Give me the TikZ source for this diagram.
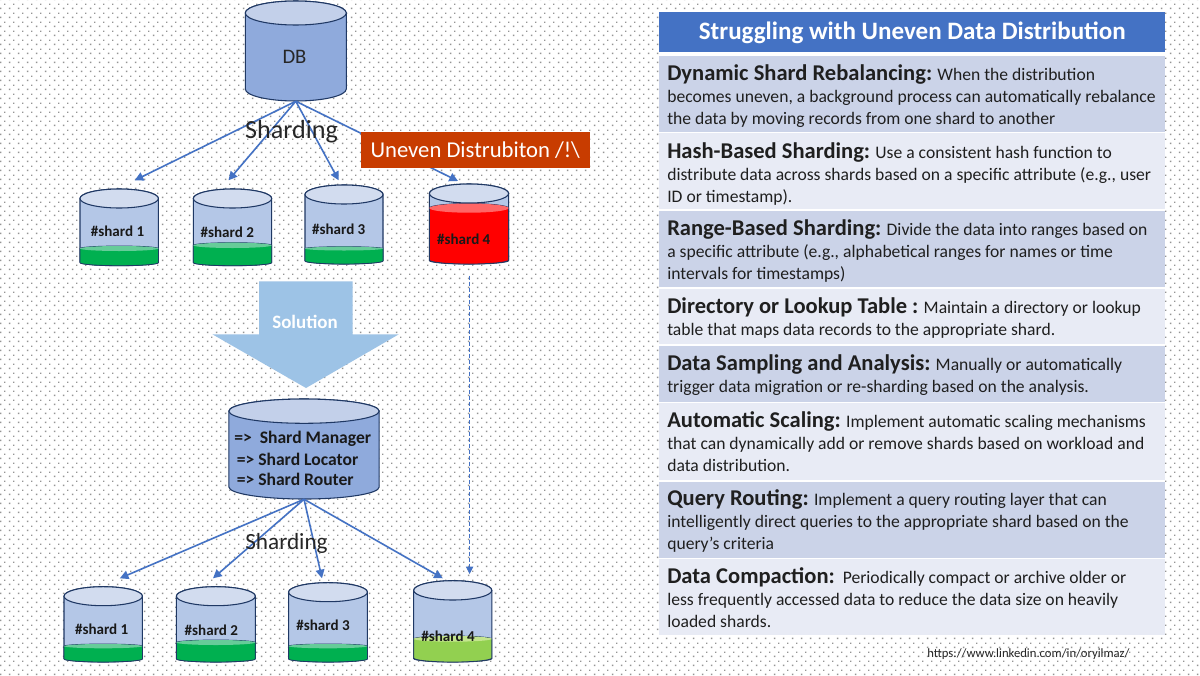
\documentclass[tikz,border=0pt]{standalone}
\usepackage{fontspec}
\setmainfont{Carlito}
\usetikzlibrary{arrows.meta,patterns}
\pgfdeclarepatternformonly{bgdots}{\pgfqpoint{0pt}{0pt}}{\pgfqpoint{6.75pt}{6.75pt}}{\pgfqpoint{6.75pt}{6.75pt}}{%
  \pgfpathrectangle{\pgfqpoint{0.8pt}{0.8pt}}{\pgfqpoint{1.1pt}{1.1pt}}%
  \pgfpathrectangle{\pgfqpoint{4.2pt}{4.2pt}}{\pgfqpoint{1.1pt}{1.1pt}}%
  \pgfusepath{fill}}
\definecolor{cylout}{HTML}{1F3864}
\definecolor{dbbody}{HTML}{8FAADC}
\definecolor{dbtop}{HTML}{C3D0EA}
\definecolor{shbody}{HTML}{B4C7E7}
\definecolor{shtop}{HTML}{D2DCEF}
\definecolor{gliq}{HTML}{00B050}
\definecolor{gliqtop}{HTML}{66CC99}
\definecolor{lliq}{HTML}{92D050}
\definecolor{lliqtop}{HTML}{C4E58E}
\definecolor{rliq}{HTML}{FF0000}
\definecolor{rliqtop}{HTML}{FF6666}
\definecolor{arrowblue}{HTML}{4472C4}
\definecolor{rowdark}{HTML}{CBD3E8}
\definecolor{rowlight}{HTML}{E8EBF5}
\definecolor{warnred}{HTML}{C83C00}
\definecolor{solblue}{HTML}{9DC3E6}
\tikzset{
  x=0.75pt,y=-0.75pt,
  cylline/.style={draw=cylout,line width=0.8pt},
  flow/.style={draw=arrowblue,line width=1.2pt,-{Triangle[length=6.5pt,width=6.5pt]}},
  dashflow/.style={draw=arrowblue,line width=0.6pt,dash pattern=on 3pt off 1.5pt,-{Triangle[length=5.5pt,width=5.5pt]}},
  tablerow/.style={inner sep=0pt,anchor=north west,minimum width=379.5pt},
  rowtext/.style={inner sep=0pt,anchor=north west,align=left,font=\fontsize{13.2}{16.3}\selectfont,text=black!88},
  shardlabel/.style={inner sep=0pt,font=\fontsize{11.3}{13}\selectfont\bfseries,text=black!90},
  managerline/.style={inner sep=0pt,anchor=base west,font=\fontsize{13.2}{16}\selectfont\bfseries,text=black!90},
  shardingtext/.style={inner sep=0pt,text=black!85},
}
% \cylbody{name}{xl}{xr}{top}{ellipse bottom}{bottom}{bottom ry}{body}{top colour}
\newcommand{\cylbody}[9]{%
  \pgfmathsetmacro{\cxx}{(#2+#3)/2}\pgfmathsetmacro{\rxx}{(#3-#2)/2}%
  \pgfmathsetmacro{\ryy}{(#5-#4)/2}\pgfmathsetmacro{\cyy}{#4+\ryy}\pgfmathsetmacro{\sby}{#6-#7}%
  \pgfmathsetmacro{\myy}{(#4+#6)/2}%
  \node[inner sep=0pt,minimum width=(#3-#2)*0.75pt,minimum height=(#6-#4)*0.75pt] (#1) at (\cxx,\myy) {};
  \path[cylline,fill=#8] (#2,\cyy) -- (#2,\sby) arc[start angle=180,end angle=360,x radius=\rxx*0.75pt,y radius=#7*0.75pt] -- (#3,\cyy) arc[start angle=0,end angle=180,x radius=\rxx*0.75pt,y radius=\ryy*0.75pt] -- cycle;
  \path[cylline,fill=#9] (\cxx,\cyy) ellipse[x radius=\rxx*0.75pt,y radius=\ryy*0.75pt];
}
% \cylliquid{xl}{xr}{top}{ellipse bottom}{bottom}{bottom ry}{body}{top colour}
\newcommand{\cylliquid}[8]{%
  \pgfmathsetmacro{\cxx}{(#1+#2)/2}\pgfmathsetmacro{\rxx}{(#2-#1)/2}%
  \pgfmathsetmacro{\ryy}{(#4-#3)/2}\pgfmathsetmacro{\cyy}{#3+\ryy}\pgfmathsetmacro{\sby}{#5-#6}%
  \path[draw=cylout,line width=0.6pt,fill=#7] (#1,\cyy) -- (#1,\sby) arc[start angle=180,end angle=360,x radius=\rxx*0.75pt,y radius=#6*0.75pt] -- (#2,\cyy) arc[start angle=0,end angle=180,x radius=\rxx*0.75pt,y radius=\ryy*0.75pt] -- cycle;
  \path[draw=none,fill=#8] (\cxx,\cyy) ellipse[x radius=\rxx*0.75pt,y radius=\ryy*0.75pt];
}
\newcommand{\hd}[1]{\fontsize{16.9}{16.3}\selectfont\bfseries #1\fontsize{13.2}{16.3}\selectfont\mdseries}
\newcommand{\fl}{\rule{0pt}{12pt}}
\begin{document}
\begin{tikzpicture}
\useasboundingbox (0,0) rectangle (1200,675);
\fill[white] (0,0) rectangle (1200,675);
\fill[pattern=bgdots,pattern color=black!42] (0,0) rectangle (1200,675);

% upper diagram connectors
\cylbody{db}{245.3}{346.3}{1}{25}{101}{12}{dbbody}{dbtop}
\coordinate (a1) at (134.7,180.3);
\coordinate (a2) at (228.5,180.3);
\coordinate (a3) at (338.7,180.3);
\coordinate (a4) at (458,181);
\draw[flow] (db.south) -- (a1);
\draw[flow] (db.south) -- (a2);
\draw[flow] (db.south) -- (a3);
\draw[flow] (db.south) -- (a4);
\node[inner sep=0pt,font=\fontsize{15.5}{18}\selectfont,text=black!85] (dblabel) at (294.5,57) {DB};
\node[shardingtext,font=\fontsize{19.6}{20}\selectfont] (sharding1) at (291.6,131.5) {Sharding};
\node[fill=warnred,inner sep=0pt,text=white,font=\fontsize{17}{20}\selectfont,minimum width=171.5pt,minimum height=27.2pt] (warn) at (475.3,150.2) {Uneven Distrubiton /!\textbackslash};

% upper shards
\cylbody{s1}{80}{158.4}{189}{208}{265.7}{3.5}{shbody}{shtop}
\cylliquid{80}{158.4}{246}{251}{265.7}{3}{gliq}{gliqtop}
\cylbody{s2}{193.3}{271.7}{189}{208}{265.7}{3.5}{shbody}{shtop}
\cylliquid{193.3}{271.7}{242.7}{248}{265.7}{3}{gliq}{gliqtop}
\cylbody{s3}{305}{383}{185}{204}{264}{3.5}{shbody}{shtop}
\cylliquid{305}{383}{246.7}{250.5}{264}{3}{gliq}{gliqtop}
\cylbody{s4}{429.4}{508.6}{184}{203}{264}{3.5}{shbody}{shtop}
\cylliquid{429.4}{508.6}{203.5}{212.7}{264}{4}{rliq}{rliqtop}
\node[shardlabel] (l1) at (117.5,231.5) {\#shard 1};
\node[shardlabel] (l2) at (227.3,232.5) {\#shard 2};
\node[shardlabel] (l3) at (338.7,229) {\#shard 3};
\node[shardlabel] (l4) at (463.7,239.5) {\#shard 4};

% solution arrow
\fill[solblue] (259,281.3) -- (352.5,281.3) -- (352.5,334.3) -- (398.8,334.3) -- (306,388) -- (212.4,334.3) -- (259,334.3) -- cycle;
\node[inner sep=0pt,text=white,font=\fontsize{14.2}{16}\selectfont\bfseries] (solution) at (305,322) {Solution};

% manager
\cylbody{mgr}{228.9}{379.2}{399}{423.3}{499}{12}{dbbody}{dbtop}
\node[managerline] (m1) at (234,443) {=>\ \ Shard Manager};
\node[managerline] (m2) at (236.5,465) {=> Shard Locator};
\node[managerline] (m3) at (236.5,485.7) {=> Shard Router};

% lower connectors
\coordinate (b1) at (119.8,578.3);
\coordinate (b2) at (213,578.3);
\coordinate (b3) at (322,578.3);
\coordinate (b4) at (442.8,578.3);
\coordinate (d0) at (469.6,275.7);
\coordinate (d1) at (469.6,574);
\draw[flow] (mgr.south) -- (b1);
\draw[flow] (mgr.south) -- (b2);
\draw[flow] (mgr.south) -- (b3);
\draw[flow] (mgr.south) -- (b4);
\draw[dashflow] (d0) -- (d1);
\node[shardingtext,font=\fontsize{17.4}{20}\selectfont] (sharding2) at (286.5,543.2) {Sharding};

% lower shards
\cylbody{t1}{64}{142.4}{586.7}{605.7}{662}{3.5}{shbody}{shtop}
\cylliquid{64}{142.4}{644}{648.3}{662}{3}{gliq}{gliqtop}
\cylbody{t2}{176.4}{255.3}{586.7}{605.7}{662}{3.5}{shbody}{shtop}
\cylliquid{176.4}{255.3}{640}{645}{662}{3}{gliq}{gliqtop}
\cylbody{t3}{288.6}{367.4}{582.7}{601.7}{662}{3.5}{shbody}{shtop}
\cylliquid{288.6}{367.4}{644}{648.3}{662}{3}{gliq}{gliqtop}
\cylbody{t4}{413.7}{491.8}{580.7}{600}{662}{3.5}{shbody}{shtop}
\cylliquid{413.7}{491.8}{636}{641.7}{662}{4}{lliq}{lliqtop}
\node[shardlabel] (k1) at (101.7,629.5) {\#shard 1};
\node[shardlabel] (k2) at (211.4,630.5) {\#shard 2};
\node[shardlabel] (k3) at (323,625.5) {\#shard 3};
\node[shardlabel] (k4) at (448,636.5) {\#shard 4};

% table
\fill[white] (659,12) rectangle (1165,636);
\node[tablerow,fill=arrowblue,minimum height=30pt,text=white,font=\fontsize{18.8}{20}\selectfont\bfseries,anchor=north west,text depth=3pt] (title) at (659,12) {Struggling with Uneven Data Distribution};
\node[tablerow,fill=rowdark,minimum height=56.5pt] (r1) at (659,56) {};
\node[tablerow,fill=rowlight,minimum height=57pt] (r2) at (659,133) {};
\node[tablerow,fill=rowdark,minimum height=57pt] (r3) at (659,211) {};
\node[tablerow,fill=rowlight,minimum height=41pt] (r4) at (659,289) {};
\node[tablerow,fill=rowdark,minimum height=41.5pt] (r5) at (659,346) {};
\node[tablerow,fill=rowlight,minimum height=57.5pt] (r6) at (659,403) {};
\node[tablerow,fill=rowdark,minimum height=56.5pt] (r7) at (659,482) {};
\node[tablerow,fill=rowlight,minimum height=57pt] (r8) at (659,559) {};

\node[rowtext] (t1text) at (667,64.5) {\fl\hd{Dynamic Shard Rebalancing:} When the distribution\\becomes uneven, a background process can automatically rebalance\\the data by moving records from one shard to another};
\node[rowtext] (t2text) at (667,142.5) {\fl\hd{Hash-Based Sharding:} Use a consistent hash function to\\distribute data across shards based on a specific attribute (e.g., user\\ID or timestamp).};
\node[rowtext] (t3text) at (667,219.5) {\fl\hd{Range-Based Sharding:} Divide the data into ranges based on\\a specific attribute (e.g., alphabetical ranges for names or time\\intervals for timestamps)};
\node[rowtext] (t4text) at (667,297) {\fl\hd{Directory or Lookup Table :} Maintain a directory or lookup\\table that maps data records to the appropriate shard.};
\node[rowtext] (t5text) at (667,354.5) {\fl\hd{Data Sampling and Analysis:} Manually or automatically\\trigger data migration or re-sharding based on the analysis.};
\node[rowtext] (t6text) at (667,411.5) {\fl\hd{Automatic Scaling:} Implement automatic scaling mechanisms\\that can dynamically add or remove shards based on workload and\\data distribution.};
\node[rowtext] (t7text) at (667,489.5) {\fl\hd{Query Routing:} Implement a query routing layer that can\\intelligently direct queries to the appropriate shard based on the\\query\symbol{39}s criteria};
\node[rowtext] (t8text) at (667,567.5) {\fl\hd{Data Compaction:}\ \ Periodically compact or archive older or\\less frequently accessed data to reduce the data size on heavily\\loaded shards.};
\node[inner sep=0pt,anchor=base west,font=\fontsize{9.5}{11}\selectfont,text=black!85] (url) at (927,657.6) {https://www.linkedin.com/in/oryilmaz/};
\end{tikzpicture}
\end{document}
